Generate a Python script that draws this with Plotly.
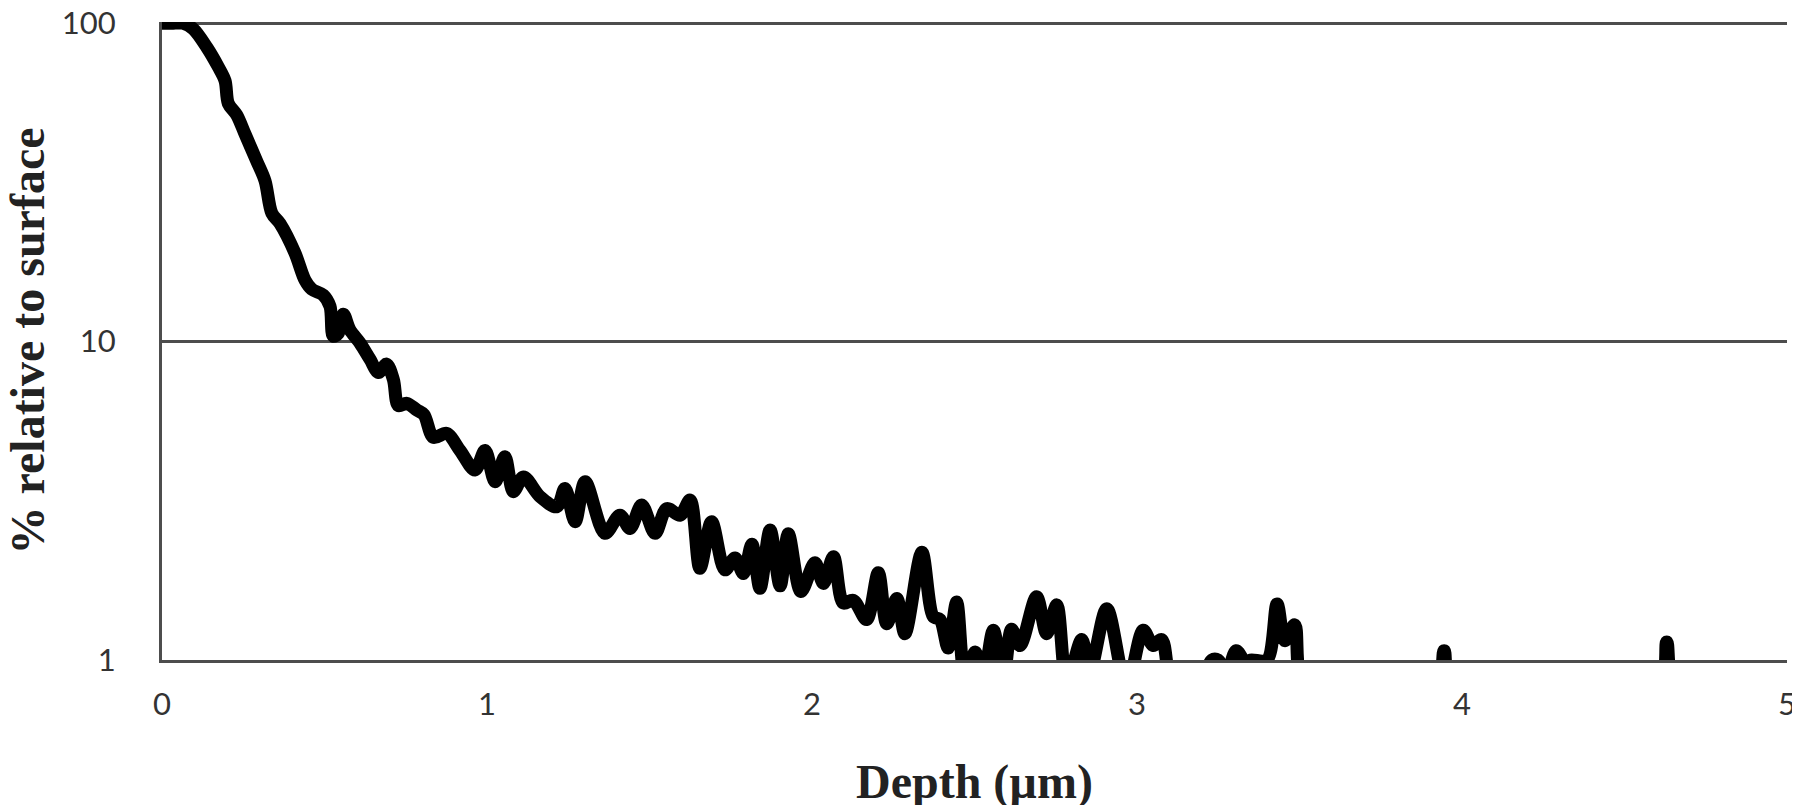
import plotly.graph_objects as go

# Depth (µm) and % relative to surface
depth = [
    0.000, 0.030, 0.065, 0.096, 0.138, 0.173, 0.194, 0.204, 0.230, 0.255,
    0.291, 0.317, 0.338, 0.363, 0.409, 0.440, 0.461, 0.496, 0.517, 0.527,
    0.542, 0.558, 0.578, 0.609, 0.640, 0.666, 0.691, 0.712, 0.727, 0.753,
    0.784, 0.806, 0.835, 0.876, 0.917, 0.963, 0.994, 1.025, 1.055, 1.081,
    1.112, 1.163, 1.215, 1.240, 1.271, 1.302, 1.363, 1.409, 1.440, 1.476,
    1.517, 1.553, 1.594, 1.625, 1.655, 1.691, 1.732, 1.763, 1.789, 1.815,
    1.840, 1.871, 1.902, 1.927, 1.966, 2.009, 2.035, 2.066, 2.096, 2.127,
    2.168, 2.204, 2.230, 2.261, 2.286, 2.338, 2.373, 2.394, 2.419, 2.445,
    2.471, 2.502, 2.527, 2.558, 2.589, 2.614, 2.640, 2.691, 2.722, 2.753,
    2.784, 2.830, 2.855, 2.907, 2.968, 3.019, 3.050, 3.076, 3.107, 3.170,
    3.230, 3.250, 3.275, 3.305, 3.335, 3.350, 3.400, 3.431, 3.455, 3.485,
    3.515, 3.700, 3.920, 3.945, 3.970, 4.300, 4.605, 4.630, 4.655, 4.800,
    5.000,
]
percent = [
    100.0, 100.0, 100.0, 96.0, 84.0, 73.0, 66.0, 56.0, 51.5, 45.0,
    37.0, 32.0, 25.3, 23.5, 19.0, 15.6, 14.6, 14.0, 12.9, 10.4,
    10.6, 12.2, 10.9, 9.9, 8.8, 8.0, 8.5, 7.6, 6.3, 6.4,
    6.1, 5.9, 5.0, 5.15, 4.55, 3.95, 4.55, 3.63, 4.35, 3.38,
    3.76, 3.26, 3.03, 3.46, 2.72, 3.63, 2.50, 2.85, 2.59, 3.07,
    2.50, 2.99, 2.85, 3.18, 1.94, 2.72, 1.92, 2.09, 1.87, 2.31,
    1.68, 2.56, 1.71, 2.49, 1.64, 2.02, 1.74, 2.11, 1.51, 1.54,
    1.34, 1.88, 1.30, 1.56, 1.21, 2.18, 1.37, 1.34, 1.09, 1.52,
    0.88, 1.06, 0.88, 1.24, 0.88, 1.25, 1.11, 1.58, 1.21, 1.49,
    0.85, 1.16, 0.92, 1.45, 0.82, 1.24, 1.11, 1.16, 0.82, 0.70,
    1.00, 1.00, 0.90, 1.07, 0.98, 1.00, 1.00, 1.50, 1.15, 1.29,
    0.80, 0.70, 0.80, 1.07, 0.80, 0.70, 0.80, 1.14, 0.80, 0.70,
    0.70,
]

x_ticks = [0, 1, 2, 3, 4, 5]
y_ticks = [1, 10, 100]
y_ticktext = ["1", "10", "100"]

axis_col = "#4d4d4d"
tick_font = dict(family="Lato", size=31, color="#333333")
title_font = dict(family="Liberation Serif", size=48, color="#222222", weight="bold")

fig = go.Figure(
    go.Scatter(
        x=depth, y=percent, mode="lines",
        line=dict(color="black", width=13, shape="spline", smoothing=0.9),
        showlegend=False, hoverinfo="skip",
    )
)

# the page body has an 8px margin, so the figure is 8px smaller than the window
fig.update_layout(
    width=1792, height=797,
    margin=dict(l=154, r=13, t=14, b=145),
    paper_bgcolor="white", plot_bgcolor="white",
    xaxis=dict(
        range=[0, 5], tickmode="array", tickvals=x_ticks,
        showgrid=False, zeroline=False, automargin=False,
        showline=True, linecolor=axis_col, linewidth=3,
        ticks="", tickfont=tick_font, ticklabelstandoff=15,
        ticklabeloverflow="allow",
        layer="below traces",
    ),
    yaxis=dict(
        type="log", range=[0, 2.004], tickmode="array",
        tickvals=y_ticks, ticktext=y_ticktext,
        showgrid=True, gridcolor=axis_col, gridwidth=3,
        zeroline=False, automargin=False,
        showline=True, linecolor=axis_col, linewidth=3,
        ticks="", tickfont=tick_font, ticklabelstandoff=37,
        ticklabeloverflow="allow",
        layer="below traces",
    ),
    annotations=[
        dict(text="Depth (µm)", xref="paper", yref="paper",
             x=0.5, y=-0.192, xanchor="center", yanchor="middle",
             showarrow=False, font=title_font),
        dict(text="% relative to surface", xref="paper", yref="paper",
             x=-0.0828, y=0.5, xanchor="center", yanchor="middle",
             textangle=-90, showarrow=False, font=title_font),
    ],
)

fig.write_html("out.html")
